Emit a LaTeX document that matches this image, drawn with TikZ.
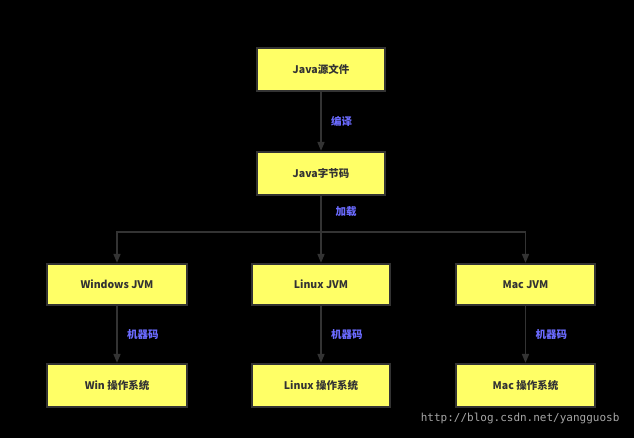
\documentclass[tikz,border=0pt]{standalone}
\usepackage{fontspec}
\setmainfont{Noto Sans CJK SC}
\newfontfamily\wmfont{DejaVu Sans Mono}
\usetikzlibrary{positioning}
\usetikzlibrary{arrows.meta}
\definecolor{boxfill}{HTML}{FFFF66}
\definecolor{boxline}{HTML}{333333}
\definecolor{labelblue}{HTML}{6B6BFF}
\tikzset{
  box/.style={draw=boxline, line width=2.2pt, fill=boxfill, text=boxline, font=\bfseries\fontsize{10.5}{12}\selectfont, minimum height=41pt, inner sep=0pt},
  link/.style={draw=boxline, line width=1.6pt},
  arr/.style={link, -{Triangle[length=9pt,width=7pt]}},
  lbl/.style={text=labelblue, font=\bfseries\fontsize{10.5}{12}\selectfont}
}
\begin{document}
\begin{tikzpicture}[x=1pt,y=-1pt]

\fill[black] (0,0) rectangle (634,438);

% top
\node[box, minimum width=128pt, minimum height=43pt] (src) at (321,69.5) {Java源文件};
\node[box, minimum width=128pt, minimum height=43pt] (byte) at (321,173.5) {Java字节码};

% jvm row
\node[box, minimum width=140pt] (winjvm) at (117,284.5) {Windows JVM};
\node[box, minimum width=138pt] (linjvm) at (321,284.5) {Linux JVM};
\node[box, minimum width=139pt] (macjvm) at (525.5,284.5) {Mac JVM};

% os row
\node[box, minimum width=140pt, minimum height=43pt] (winos) at (117,385.5) {Win 操作系统};
\node[box, minimum width=138pt, minimum height=43pt] (linos) at (321,385.5) {Linux 操作系统};
\node[box, minimum width=139pt, minimum height=43pt] (macos) at (525.5,385.5) {Mac 操作系统};

\coordinate (bus) at (321,232);

\draw[arr] (src) -- node[lbl, right=6pt] {编译} (byte);
\draw[link] (byte) -- (bus);
\draw[arr] (bus) -| (winjvm);
\draw[arr] (bus) -- (linjvm);
\draw[arr] (bus) -| (macjvm);
\node[lbl] (load) at (346,212) {加载};

\draw[arr] (winjvm) -- node[lbl, right=6pt] {机器码} (winos);
\draw[arr] (linjvm) -- node[lbl, right=6pt] {机器码} (linos);
\draw[arr] (macjvm) -- node[lbl, right=6pt] {机器码} (macos);

\node[anchor=east, text=gray!70, font=\wmfont\fontsize{11}{12}\selectfont] (mark) at (623,418) {http://blog.csdn.net/yangguosb};

\end{tikzpicture}
\end{document}
